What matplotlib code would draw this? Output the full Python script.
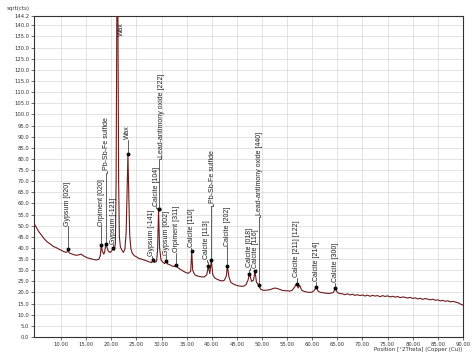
import matplotlib
matplotlib.use('Agg')
import matplotlib.pyplot as plt

# diffractogram (deg 2theta, sqrt counts)
two_theta = [4.6, 5.0, 5.5, 6.0, 6.5, 7.0, 7.5, 8.0, 8.5, 9.0,
             9.5, 10.0, 10.5, 11.0, 11.2, 11.4, 11.6, 12.0, 12.5, 13.0,
             13.5, 14.0, 14.5, 15.0, 15.5, 16.0, 16.5, 17.0, 17.5, 17.8,
             18.0, 18.2, 18.5, 18.7, 18.9, 19.1, 19.4, 19.8, 20.1, 20.4,
             20.6, 20.8, 20.95, 21.1, 21.2, 21.3, 21.45, 21.6, 21.8, 22.1,
             22.4, 22.7, 22.95, 23.15, 23.3, 23.45, 23.65, 23.9, 24.2, 24.6,
             25.0, 25.5, 26.0, 26.5, 27.0, 27.5, 28.0, 28.3, 28.6, 29.0,
             29.2, 29.4, 29.6, 29.9, 30.3, 30.6, 30.9, 31.2, 31.6, 32.0,
             32.5, 32.9, 33.3, 33.8, 34.3, 34.8, 35.3, 35.8, 36.0, 36.2,
             36.6, 37.0, 37.5, 38.0, 38.5, 39.0, 39.3, 39.6, 39.9, 40.2,
             40.6, 41.0, 41.5, 42.0, 42.5, 42.9, 43.1, 43.4, 43.8, 44.3,
             44.8, 45.3, 45.8, 46.3, 46.8, 47.2, 47.5, 47.9, 48.3, 48.6,
             48.9, 49.3, 49.7, 50.2, 50.8, 51.5, 52.0, 52.5, 53.0, 53.5,
             54.0, 54.5, 55.0, 55.5, 56.0, 56.5, 56.9, 57.2, 57.5, 57.9,
             58.5, 59.0, 59.5, 60.0, 60.4, 60.8, 61.2, 61.7, 62.3, 63.0,
             63.6, 64.2, 64.6, 65.0, 65.5, 66.0, 66.5, 67.0, 67.5, 68.0,
             68.5, 69.0, 69.5, 70.0, 70.5, 71.0, 71.5, 72.0, 72.5, 73.0,
             73.5, 74.0, 74.5, 75.0, 75.5, 76.0, 76.5, 77.0, 77.5, 78.0,
             78.5, 79.0, 79.5, 80.0, 80.5, 81.0, 81.5, 82.0, 82.5, 83.0,
             83.5, 84.0, 84.5, 85.0, 85.5, 86.0, 86.5, 87.0, 87.5, 88.0,
             88.5, 89.0, 89.5, 90.0]
intensity = [51.0, 49.5, 47.5, 46.0, 44.5, 43.2, 42.3, 41.5, 40.6, 40.2,
             39.5, 39.0, 38.4, 38.0, 38.3, 39.7, 37.8, 37.4, 37.0, 36.7,
             36.9, 37.2, 36.4, 35.8, 35.4, 35.1, 34.8, 34.6, 34.9, 36.5,
             41.5, 38.5, 37.2, 38.5, 42.0, 40.5, 38.5, 38.0, 38.8, 40.0,
             39.0, 42.0, 70.0, 150.0, 190.0, 150.0, 70.0, 45.0, 40.5, 39.0,
             38.0, 39.5, 47.0, 68.0, 82.0, 66.0, 46.0, 39.5, 37.5, 36.5,
             36.0, 35.3, 35.0, 34.6, 34.2, 33.8, 33.4, 34.5, 33.5, 34.0,
             39.0, 57.5, 40.0, 34.5, 33.5, 33.0, 34.0, 32.8, 32.5, 32.0,
             31.6, 32.5, 31.0, 30.3, 29.6, 29.0, 28.6, 29.5, 38.5, 30.0,
             28.0, 27.5, 27.2, 27.0, 27.0, 28.0, 31.7, 28.5, 34.4, 28.0,
             26.5, 26.0, 25.5, 25.2, 25.5, 27.5, 32.0, 27.0, 24.5, 23.8,
             23.3, 23.0, 22.8, 22.8, 23.5, 25.5, 28.5, 25.0, 25.5, 29.5,
             24.5, 23.5, 21.5, 21.0, 21.0, 21.2, 21.6, 22.0, 21.8, 21.4,
             21.0, 20.8, 20.8, 20.6, 21.0, 22.5, 24.0, 22.0, 23.2, 21.0,
             20.4, 20.2, 20.0, 20.2, 21.0, 22.3, 20.5, 20.0, 19.8, 19.6,
             19.6, 20.0, 21.8, 20.0, 19.5, 19.4, 19.0, 19.4, 18.9, 19.2,
             18.7, 19.0, 18.6, 18.9, 18.4, 18.8, 18.3, 18.7, 18.4, 18.6,
             18.1, 18.6, 18.2, 18.5, 18.0, 18.3, 17.9, 18.2, 17.7, 18.0,
             17.8, 17.5, 17.8, 17.3, 17.6, 17.1, 17.4, 16.9, 17.3, 17.0,
             16.7, 17.0, 16.5, 16.7, 16.2, 16.5, 16.0, 16.3, 15.8, 16.0,
             15.7, 15.4, 14.8, 14.3]

# peak labels
label_text = ['Gypsum [020]', 'Orpiment [020]', 'Pb-Sb-Fe sulfide', 'Gypsum [-121]',
              'Wax', 'Wax', 'Gypsum [-141]', 'Calcite [104]',
              'Lead-antimony oxide [222]', 'Gypsum [002]', 'Orpiment [311]',
              'Calcite [110]', 'Calcite [113]', 'Pb-Sb-Fe sulfide', 'Calcite [202]',
              'Calcite [018]', 'Calcite [116]', 'Lead-antimony oxide [440]',
              'Calcite [211] [122]', 'Calcite [214]', 'Calcite [300]']
label_pos = [11.4, 18.0, 18.9, 20.4, 21.2, 23.3, 28.3, 29.4, 29.4, 30.9, 32.9,
             36.0, 39.3, 39.9, 43.1, 47.5, 48.6, 49.3, 56.9, 60.8, 64.6]
label_int = [39.7, 41.5, 42.0, 40.0, None, 82.0, 34.5, 57.5, 57.5, 34.0, 32.5,
             38.5, 31.7, 34.4, 32.0, 28.5, 29.5, 23.5, 24.0, 22.3, 21.8]
# where each text sits (x of text, bottom of text)
text_x = [11.3, 18.0, 19.1, 20.4, 21.95, 23.3, 28.0, 28.9, 29.9, 30.9, 32.9,
          35.9, 39.0, 40.2, 43.1, 47.6, 48.7, 49.5, 56.9, 60.8, 64.6]
text_y = [50, 50, 75, 42, 141.5, 89, 36.5, 59, 81, 37, 38,
          40.5, 35, 60, 41, 31.5, 31, 55, 27, 25, 24.5]

fig = plt.figure(figsize=(4.74, 3.53), dpi=100)
ax = fig.add_axes([0.0717, 0.0453, 0.905, 0.9094])

ax.plot(two_theta, intensity, color='#6e1c1c', lw=0.8, zorder=3)

for i in range(len(label_text)):
    px = label_pos[i]
    tx = text_x[i]
    ty = text_y[i]
    if label_int[i] is None:
        ax.text(tx, ty, label_text[i], rotation=90, ha='center', va='top',
                fontsize=5, family='Liberation Sans', color='#222222')
        continue
    py = label_int[i]
    ax.plot(px, py, 'o', color='black', ms=1.8, zorder=4)
    ax.plot([px, px, tx, tx], [py, ty - 1.2, ty - 1.2, ty - 0.3], color='#222222',
            lw=0.5, zorder=4)
    ax.text(tx, ty, label_text[i], rotation=90, ha='center', va='bottom',
            fontsize=5, family='Liberation Sans', color='#222222')

ax.set_xlim(4.6, 90)
ax.set_ylim(0, 144.2)

xt = [10, 15, 20, 25, 30, 35, 40, 45, 50, 55, 60, 65, 70, 75, 80, 85, 90]
ax.set_xticks(xt)
ax.set_xticklabels(['%.2f' % v for v in xt])
yt = list(range(0, 145, 5)) + [144.2]
ax.set_yticks(yt)
ax.set_yticklabels(['%.1f' % v for v in yt])
ax.tick_params(labelsize=3.8, colors='#333333', length=2, width=0.5, pad=1.5)

ax.grid(True, color='#d8d8d8', lw=0.5)
ax.set_axisbelow(True)
for s in ax.spines.values():
    s.set_color('#333333')
    s.set_linewidth(0.8)

fig.text(0.015, 0.975, 'sqrt(cts)', fontsize=4, color='#333333', va='center')
fig.text(0.975, 0.003, 'Position [°2Theta] (Copper (Cu))', fontsize=4,
         color='#333333', ha='right', va='bottom')

fig.savefig('out.png', dpi=100)
